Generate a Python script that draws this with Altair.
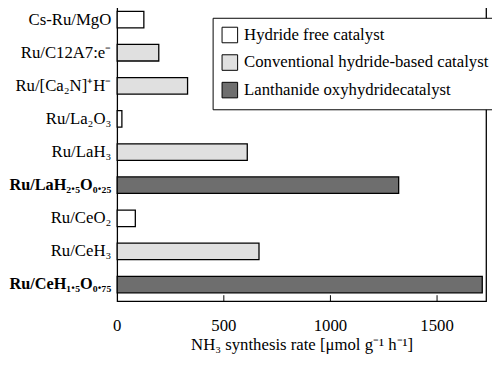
import altair as alt
import pandas as pd

categories = ["Cs-Ru/MgO", "Ru/C12A7:e⁻", "Ru/[Ca₂N]⁺H⁻", "Ru/La₂O₃", "Ru/LaH₃",
              "Ru/LaH₂.₅O₀.₂₅", "Ru/CeO₂", "Ru/CeH₃", "Ru/CeH₁.₅O₀.₇₅"]
rates = [125, 195, 330, 22, 610, 1320, 85, 665, 1712]
T0 = "Hydride free catalyst"
T1 = "Conventional hydride-based catalyst"
T2 = "Lanthanide oxyhydridecatalyst"
types = [T0, T1, T1, T0, T1, T2, T0, T1, T2]
bold = [False, False, False, False, False, True, False, False, True]
type_order = [T0, T1, T2]
type_colors = ["#ffffff", "#e0e0e0", "#6e6e6e"]
x_ticks = [0, 500, 1000, 1500]
inner_ticks = [500, 1000, 1500]

df = pd.DataFrame({"cat": categories, "rate": rates, "type": types, "bold": bold})
ticks_df = pd.DataFrame({"t": inner_ticks})
labels_df = pd.DataFrame({"t": x_ticks, "txt": [str(v) for v in x_ticks]})

FONT = "Liberation Serif"
FS = 17
W, H = 375, 303

xscale = alt.Scale(domain=[0, 1730], nice=False, zero=True)
yscale = alt.Scale(domain=categories, paddingInner=0.5, paddingOuter=0.25)

bars = alt.Chart(df).mark_bar(stroke="black", strokeWidth=1.3).encode(
    x=alt.X("rate:Q", scale=xscale,
            axis=alt.Axis(values=x_ticks, labels=False, ticks=False, domain=False, grid=False,
                          title="NH₃ synthesis rate [μmol g⁻¹ h⁻¹]",
                          titleFont=FONT, titleFontSize=FS, titleFontWeight="normal",
                          titleColor="black", titlePadding=36)),
    y=alt.Y("cat:N", scale=yscale, axis=None),
    fill=alt.Fill("type:N", scale=alt.Scale(domain=type_order, range=type_colors),
                  legend=alt.Legend(title=None, orient="none", legendX=97, legendY=15,
                                    symbolType="square", symbolSize=250,
                                    symbolStrokeColor="black", symbolStrokeWidth=1,
                                    labelFont=FONT, labelFontSize=FS, labelColor="black",
                                    labelOffset=6, rowPadding=7, padding=9,
                                    strokeColor="black", fillColor="white",
                                    labelLimit=400)),
)

def label_layer(is_bold):
    return alt.Chart(df).transform_filter(
        "datum.bold" if is_bold else "!datum.bold"
    ).mark_text(align="right", baseline="middle", font=FONT,
                fontSize=16.5 if is_bold else FS,
                color="black", dx=-6,
                fontWeight="bold" if is_bold else "normal").encode(
        y=alt.Y("cat:N", scale=yscale, axis=None),
        x=alt.value(0),
        text="cat:N",
    )

tick_marks = alt.Chart(ticks_df).mark_rule(color="black", strokeWidth=1).encode(
    x=alt.X("t:Q", scale=xscale),
    y=alt.value(H),
    y2=alt.value(H - 6),
)

tick_labels = alt.Chart(labels_df).mark_text(
    align="center", baseline="middle", font=FONT, fontSize=FS, color="black"
).encode(
    x=alt.X("t:Q", scale=xscale),
    y=alt.value(H + 25),
    text="txt:N",
)

chart = alt.layer(bars, label_layer(False), label_layer(True), tick_marks, tick_labels).properties(
    width=W, height=H,
    autosize=alt.AutoSizeParams(type="none"),
    padding={"left": 111, "top": -8, "right": 6, "bottom": 62},
).configure(
    font=FONT,
).configure_view(stroke="black", strokeWidth=1.3).configure_legend(
    labelFont=FONT, labelFontSize=FS, labelColor="black",
)

chart.save("out.html", embed_options={"renderer": "svg", "actions": False})
